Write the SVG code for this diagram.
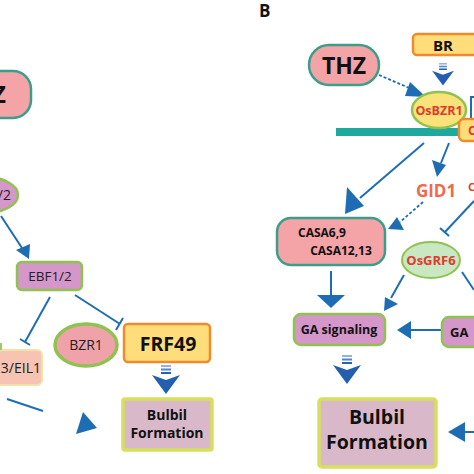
<svg xmlns="http://www.w3.org/2000/svg" width="474" height="474" viewBox="0 0 474 474">
<defs>
<style>
text{font-family:"Open Sans","Liberation Sans",sans-serif;}
.ln{stroke:#1e6db4;stroke-width:2;fill:none;}
.dash{stroke:#1e6db4;stroke-width:1.8;fill:none;stroke-dasharray:3,2;}
.ah{fill:#1e6db4;}
.pink{fill:#f4a3a6;stroke:#3a9e8a;stroke-width:2.5;}
.purp{fill:#d596c9;stroke:#8fc34f;stroke-width:2.5;}
.bulb{fill:#d9b9c9;stroke:#d6e05c;stroke-width:3.5;}
.yel{fill:#ffdd7a;stroke:#f08a2c;stroke-width:2.5;}
.b{font-weight:bold;fill:#111;}
.r{font-weight:bold;fill:#e03a2e;}
</style>
<g id="dbl">
<rect x="-5" y="0" width="10" height="2" fill="#8fb4e0"/>
<rect x="-5" y="3.5" width="10" height="2" fill="#4f86c8"/>
<rect x="-5" y="7" width="10" height="2" fill="#2a62ad"/>
<polygon points="-14,10 0,15 14,10 0,29" fill="#235fae"/>
</g>
</defs>
<rect width="474" height="474" fill="#fff"/>

<g id="connectors">
<!-- Panel A -->
<line class="ln" x1="1" y1="216" x2="22" y2="248"/>
<polygon class="ah" points="16,250 30,244 29,259"/>
<line class="ln" x1="50" y1="297" x2="25" y2="342"/>
<line class="ln" x1="20" y1="339" x2="30" y2="345"/>
<line class="ln" x1="75" y1="295" x2="120" y2="324"/>
<line class="ln" x1="116" y1="330" x2="123" y2="318"/>
<line class="ln" x1="7" y1="399" x2="43" y2="411"/>
<polygon class="ah" points="83,412 97,428 76,434"/>
<use href="#dbl" transform="translate(166,365)"/>
<!-- Panel B -->
<use href="#dbl" transform="translate(443,63) scale(0.78)"/>
<line class="dash" x1="379" y1="75" x2="414" y2="90"/>
<polygon class="ah" points="410,82 426,97 405,96"/>
<line class="ln" x1="424" y1="143" x2="360" y2="198"/>
<polygon class="ah" points="347,187 364,206 345,214"/>
<line class="ln" x1="449" y1="143" x2="441" y2="163"/>
<polygon class="ah" points="432,160 446,165 437,177"/>
<line class="dash" x1="423" y1="202" x2="400" y2="222"/>
<polygon class="ah" points="397,217 404,230 388,229"/>
<line class="ln" x1="474" y1="201" x2="445" y2="232"/>
<line class="ln" x1="440" y1="228" x2="449" y2="236"/>
<polyline class="ln" points="474,97 471,97 471,120" stroke-width="1.6"/>
<line class="ln" x1="404" y1="275" x2="391" y2="298"/>
<polygon class="ah" points="385,297 398,304 384,311"/>
<line class="ln" x1="462" y1="272" x2="474" y2="290"/>
<line class="ln" x1="331" y1="271" x2="331" y2="296"/>
<polygon class="ah" points="317,295 345,295 331,308"/>
<line class="ln" x1="442" y1="330" x2="410" y2="330"/>
<polygon class="ah" points="397,330 411,321 411,339"/>
<use href="#dbl" transform="translate(347,355)"/>
<line class="ln" x1="465" y1="432" x2="474" y2="432"/>
<polygon class="ah" points="448,432 465,422 465,442"/>
</g>

<!-- Panel A nodes -->
<g id="thzA">
<rect class="pink" x="-40" y="71" width="71" height="47" rx="18"/>
<text class="b" x="6" y="103" font-size="24" text-anchor="end">Z</text>
</g>
<g id="ein2">
<ellipse class="purp" cx="-15" cy="195" rx="33" ry="18"/>
<text x="11" y="200" font-size="14" fill="#222" text-anchor="end">/2</text>
</g>
<g id="ebf">
<rect class="purp" x="17" y="262" width="65" height="28" rx="5"/>
<text x="50" y="281" font-size="13.5" fill="#222" text-anchor="middle">EBF1/2</text>
</g>
<g id="eil1">
<rect x="-20" y="350" width="62" height="35" rx="5" fill="#f7c3b3" stroke="#f3e2a8" stroke-width="2"/>
<text x="41" y="373" font-size="14" fill="#222" text-anchor="end">3/EIL1</text>
</g>
<rect x="-3" y="343" width="5" height="7" fill="#9ccc65"/>
<g id="bzr1">
<ellipse cx="86" cy="345" rx="31" ry="21" fill="#f0a2aa" stroke="#8fc34f" stroke-width="3.5"/>
<text x="86" y="350" font-size="14" fill="#222" text-anchor="middle">BZR1</text>
</g>
<g id="frf49">
<rect class="yel" x="124" y="324" width="86" height="38" rx="4" stroke-width="3"/>
<text class="b" x="168" y="351" font-size="19.5" text-anchor="middle">FRF49</text>
</g>
<g id="bulbilA">
<rect class="bulb" x="123" y="399" width="89" height="51" rx="2" stroke-width="3"/>
<text class="b" x="167" y="420" font-size="14" text-anchor="middle">Bulbil</text>
<text class="b" x="167" y="438" font-size="14" text-anchor="middle">Formation</text>
</g>

<!-- Panel B -->
<text class="b" x="259" y="17" font-size="17">B</text>
<g id="thzB">
<rect class="pink" x="309" y="45" width="70" height="40" rx="20"/>
<text class="b" x="344" y="74" font-size="23" text-anchor="middle">THZ</text>
</g>
<g id="br">
<rect class="yel" x="413" y="34" width="70" height="21" rx="4" stroke-width="2"/>
<text class="b" x="443" y="51" font-size="15" text-anchor="middle">BR</text>
</g>
<g id="bar">
<rect x="336" y="128" width="140" height="8" fill="#1fa89e"/>
</g>
<g id="osbzr1">
<ellipse cx="439" cy="110" rx="27" ry="18" fill="#f9e27a" stroke="#8fc34f" stroke-width="2.5"/>
<text class="r" x="439" y="115" font-size="12.5" text-anchor="middle">OsBZR1</text>
</g>
<g id="orangeR">
<rect class="yel" x="459" y="119" width="30" height="22" rx="5" stroke-width="2"/>
<text class="r" x="468" y="135" font-size="12">O</text>
</g>
<g id="gid1">
<text x="436" y="197" font-size="17" font-weight="bold" fill="#ef6a4c" text-anchor="middle">GID1</text>
<text class="r" x="468" y="191" font-size="11">C</text>
</g>
<g id="casa">
<rect class="pink" x="277" y="218" width="108" height="47" rx="14"/>
<text class="b" x="322" y="237" font-size="12" text-anchor="middle">CASA6,9</text>
<text class="b" x="341" y="255" font-size="12" text-anchor="middle">CASA12,13</text>
</g>
<g id="osgrf6">
<ellipse cx="431" cy="260" rx="29" ry="18" fill="#c9e7c2" stroke="#8fc34f" stroke-width="2"/>
<text class="r" x="431" y="265" font-size="13" text-anchor="middle">OsGRF6</text>
</g>
<g id="gasig">
<rect class="purp" x="294" y="314" width="91" height="31" rx="7"/>
<text class="b" x="339" y="334" font-size="12.5" text-anchor="middle">GA signaling</text>
</g>
<g id="gaR">
<rect class="purp" x="442" y="317" width="50" height="30" rx="7"/>
<text class="b" x="450" y="337" font-size="13">GA</text>
</g>
<g id="bulbilB">
<rect class="bulb" x="319" y="399" width="117" height="68" rx="3"/>
<text class="b" x="377" y="424" font-size="19.5" text-anchor="middle">Bulbil</text>
<text class="b" x="377" y="449" font-size="19.5" text-anchor="middle">Formation</text>
</g>
</svg>
